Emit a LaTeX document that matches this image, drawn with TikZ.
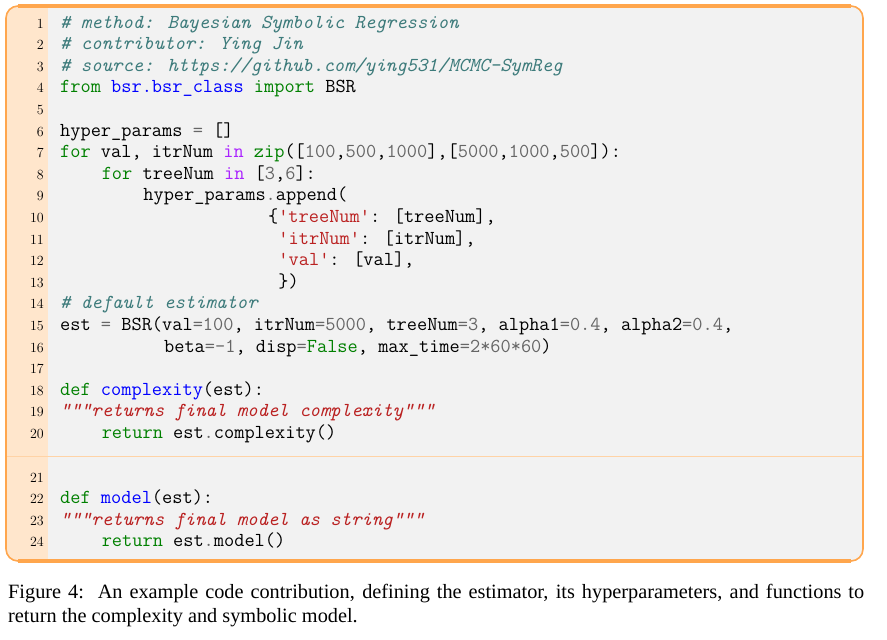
\documentclass[tikz,border=0pt]{standalone}
\usepackage{fontspec}
\newfontfamily\capfont{Liberation Serif}
\definecolor{frameor}{HTML}{FFA64D}
\definecolor{gutter}{HTML}{FFE6CC}
\definecolor{codebg}{HTML}{F2F2F2}
\definecolor{cmc}{HTML}{3D7B7B}
\definecolor{kwc}{HTML}{008000}
\definecolor{nmc}{HTML}{0000FF}
\definecolor{stc}{HTML}{BA2121}
\definecolor{nuc}{HTML}{666666}
\definecolor{opc}{HTML}{AA22FF}
\newcommand\kw[1]{\textcolor{kwc}{#1}}
\newcommand\cm[1]{\textcolor{cmc}{\itshape #1}}
\newcommand\nm[1]{\textcolor{nmc}{#1}}
\newcommand\stq[1]{\textcolor{stc}{#1}}
\newcommand\dq[1]{\textcolor{stc}{\itshape #1}}
\newcommand\numc[1]{\textcolor{nuc}{#1}}
\newcommand\opw[1]{\textcolor{opc}{#1}}
\newcommand\ind[1]{\hspace*{#1\dimexpr0.525em\relax}}
\begin{document}
\begin{tikzpicture}[x=1pt,y=1pt,
  codeline/.style={anchor=base west,inner sep=0pt,font=\ttfamily\fontsize{19.8}{21.6}\selectfont},
  lnum/.style={anchor=base east,inner sep=0pt,font=\fontsize{14}{16}\selectfont}]
\useasboundingbox (0,0) rectangle (887,-640);
\fill[codebg,rounded corners=12pt] (6,-6) rectangle (863,-561);
\begin{scope}
\clip[rounded corners=12pt] (6,-6) rectangle (863,-561);
\fill[gutter] (6,-6) rectangle (48,-561);
\end{scope}
\draw[gutter!70!frameor,line width=0.8pt] (6,-456) -- (863,-456);
\draw[frameor,line width=1.6pt,rounded corners=12pt] (6,-6) rectangle (863,-561);
\draw[frameor,line width=3.5pt] (18,-6) -- (851,-6) (18,-561) -- (851,-561);
\foreach \n in {1,...,20}{
  \node[lnum] (n\n) at (44,{-28-(\n-1)*21.6}) {\n};
}
\foreach \n in {21,...,24}{
  \node[lnum] (n\n) at (44,{-482-(\n-21)*21.6}) {\n};
}
\node[codeline] (l1) at (60,-28) {\cm{\# method: Bayesian Symbolic Regression}};
\node[codeline] (l2) at (60,-49.6) {\cm{\# contributor: Ying Jin}};
\node[codeline] (l3) at (60,-71.2) {\cm{\# source: https://github.com/ying531/MCMC-SymReg}};
\node[codeline] (l4) at (60,-92.8) {\kw{from} \nm{bsr.bsr\_class} \kw{import} BSR};
\node[codeline] (l6) at (60,-136) {hyper\_params \numc{=} []};
\node[codeline] (l7) at (60,-157.6) {\kw{for} val, itrNum \opw{in} \kw{zip}([\numc{100},\numc{500},\numc{1000}],[\numc{5000},\numc{1000},\numc{500}]):};
\node[codeline] (l8) at (60,-179.2) {\ind{4}\kw{for} treeNum \opw{in} [\numc{3},\numc{6}]:};
\node[codeline] (l9) at (60,-200.8) {\ind{8}hyper\_params\numc{.}append(};
\node[codeline] (l10) at (60,-222.4) {\ind{20}\{\stq{'treeNum'}: [treeNum],};
\node[codeline] (l11) at (60,-244) {\ind{21}\stq{'itrNum'}: [itrNum],};
\node[codeline] (l12) at (60,-265.6) {\ind{21}\stq{'val'}: [val],};
\node[codeline] (l13) at (60,-287.2) {\ind{21}\})};
\node[codeline] (l14) at (60,-308.8) {\cm{\# default estimator}};
\node[codeline] (l15) at (60,-330.4) {est \numc{=} BSR(val\numc{=}\numc{100}, itrNum\numc{=}\numc{5000}, treeNum\numc{=}\numc{3}, alpha1\numc{=}\numc{0.4}, alpha2\numc{=}\numc{0.4},};
\node[codeline] (l16) at (60,-352) {\ind{10}beta\numc{=-1}, disp\numc{=}\kw{False}, max\_time\numc{=2*60*60})};
\node[codeline] (l18) at (60,-395.2) {\kw{def} \nm{complexity}(est):};
\node[codeline] (l19) at (60,-416.8) {\dq{"""returns final model complexity"""}};
\node[codeline] (l20) at (60,-438.4) {\ind{4}\kw{return} est\numc{.}complexity()};
\node[codeline] (l22) at (60,-503.6) {\kw{def} \nm{model}(est):};
\node[codeline] (l23) at (60,-525.2) {\dq{"""returns final model as string"""}};
\node[codeline] (l24) at (60,-546.8) {\ind{4}\kw{return} est\numc{.}model()};
\node[anchor=north west,inner sep=0pt,text width=856pt,align=justify,
  font=\capfont\fontsize{20.3}{24}\selectfont] (cap) at (8,-584)
  {Figure 4:\ \ An example code contribution, defining the estimator, its hyperparameters, and functions to return the complexity and symbolic model.};
\end{tikzpicture}
\end{document}
